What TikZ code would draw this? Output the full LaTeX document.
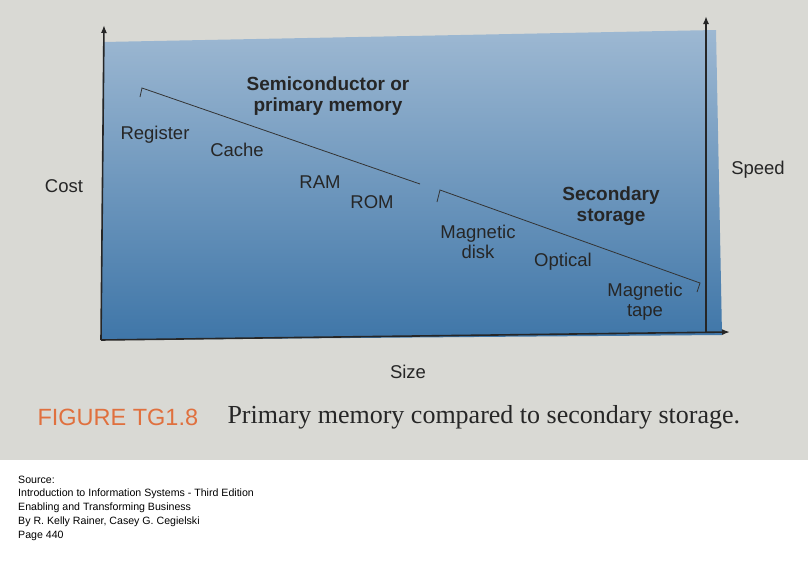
\documentclass[tikz,border=0pt]{standalone}
\usepackage{fontspec}
\setmainfont{Liberation Sans}
\newfontfamily\capserif{Liberation Serif}
\usetikzlibrary{arrows.meta}
\definecolor{page}{HTML}{D9D9D4}
\definecolor{blueT}{HTML}{9DB8D2}
\definecolor{blueB}{HTML}{3F76A8}
\definecolor{capor}{HTML}{E0703E}
\tikzset{lbl/.style={font=\fontsize{18.5}{20}\selectfont, text=black!85, align=center},
 blbl/.style={lbl, font=\fontsize{19}{21}\selectfont\bfseries},
 axis/.style={line width=1.6pt, black!85, -{Latex[length=8pt,width=6pt]}},
 brk/.style={line width=0.8pt, black!80},
 src/.style={font=\fontsize{10.6}{12}\selectfont, anchor=west, inner sep=0}}
\begin{document}
\begin{tikzpicture}[x=1pt,y=-1pt]
\useasboundingbox (0,0) rectangle (808,562);
\fill[white] (0,0) rectangle (808,562);
\fill[page] (0,0) rectangle (808,460);
\shade[top color=blueT, bottom color=blueB] (103,42) -- (716,30) -- (722,335) -- (101,340) -- cycle;
\coordinate (o) at (101,340);
\coordinate (ltop) at (104,25);
\coordinate (rbot) at (706,332);
\coordinate (rtop) at (706,16);
\coordinate (xend) at (730,332);
\draw[axis] (o) -- (ltop);
\draw[axis] (rbot) -- (rtop);
\draw[axis] (o) -- (xend);
\node[lbl] (cost) at (64,186) {Cost};
\node[lbl] (speed) at (758,170) {Speed};
\node[lbl] (size) at (408,372) {Size};
\coordinate (b1a) at (140,97); \coordinate (b1b) at (142,88); \coordinate (b1c) at (420,184);
\draw[brk] (b1a) -- (b1b) -- (b1c);
\coordinate (b2a) at (437,202); \coordinate (b2b) at (440,190); \coordinate (b2c) at (700,283); \coordinate (b2d) at (697,292);
\draw[brk] (b2a) -- (b2b) -- (b2c) -- (b2d);
\node[blbl] (semi) at (328,96) {Semiconductor or\\primary memory};
\node[lbl] (reg) at (155,135) {Register};
\node[lbl] (cache) at (237,150) {Cache};
\node[lbl] (ram) at (320,182) {RAM};
\node[lbl] (rom) at (372,202) {ROM};
\node[blbl] (sec) at (611,206) {Secondary\\storage};
\node[lbl] (mdisk) at (478,242) {Magnetic\\disk};
\node[lbl] (opt) at (563,262) {Optical};
\node[lbl] (mtape) at (645,302) {Magnetic\\tape};
\node[font=\fontsize{23.5}{26}\selectfont, text=capor, anchor=west] (fig) at (34,417) {FIGURE TG1.8};
\node[font=\capserif\fontsize{26}{28}\selectfont, text=black!85, anchor=west] (cap) at (224,417) {Primary memory compared to secondary storage.};
\node[src] (s1) at (18,480) {Source:};
\node[src] (s2) at (18,494) {Introduction to Information Systems - Third Edition};
\node[src] (s3) at (18,508) {Enabling and Transforming Business};
\node[src] (s4) at (18,522) {By R. Kelly Rainer, Casey G. Cegielski};
\node[src] (s5) at (18,536) {Page 440};
\end{tikzpicture}
\end{document}
